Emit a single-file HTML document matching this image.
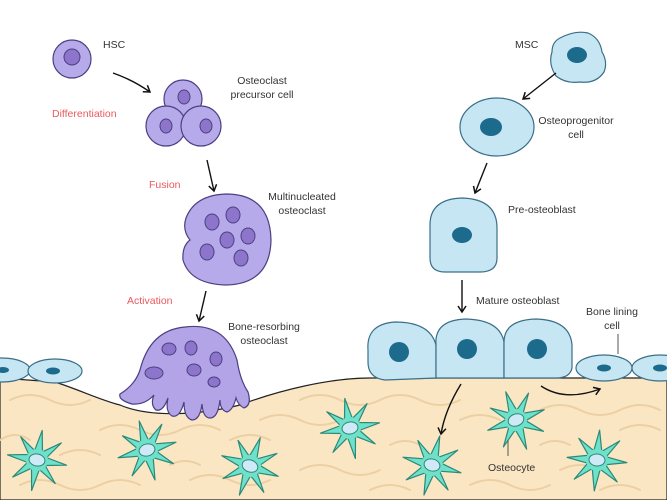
<!DOCTYPE html>
<html><head><meta charset="utf-8"><style>
html,body{margin:0;padding:0;background:#fff;}
svg{display:block;}
text{font-family:"Liberation Sans",sans-serif;font-size:10.5px;fill:#333;}
.r{fill:#e85a5e;}
</style></head><body>
<svg width="667" height="500" viewBox="0 0 667 500" xmlns="http://www.w3.org/2000/svg">
<defs>
<marker id="ah" markerWidth="10" markerHeight="10" refX="7" refY="5" orient="auto" markerUnits="userSpaceOnUse">
<path d="M1,1 L7,5 L1,9" fill="none" stroke="#111" stroke-width="1.5"/>
</marker>
<g id="oc">
<polygon points="30,0 9,4 22,20 4,9 0,31 -4,9 -21,21 -9,4 -30,0 -9,-4 -20,-20 -4,-9 0,-30 4,-9 21,-21 9,-4" fill="#6fe0c9" stroke="#2a8a78" stroke-width="1.2" stroke-linejoin="round"/>
<circle r="11" fill="#6fe0c9"/>
<ellipse cx="0" cy="0" rx="8" ry="6" fill="#cfe9f7" stroke="#2a8a78" stroke-width="1"/>
</g>
</defs>
<!-- bone -->
<path d="M0,378 L55,382 C80,390 100,400 120,405 C150,418 200,415 240,405 C280,390 330,378 370,378 L667,378 L667,500 L0,500 Z" fill="#fbe6c4" stroke="#222" stroke-width="1.2"/>
<g fill="none" stroke="#ecd0a3" stroke-width="2" stroke-linecap="round">
<path d="M10,400 q20,-10 40,0 t40,0"/><path d="M100,430 q20,-10 40,0 t40,0 t40,0"/>
<path d="M0,440 q15,-10 30,0"/><path d="M260,420 q20,-10 40,0 t40,0"/>
<path d="M380,400 q20,-10 40,0 t40,0"/><path d="M540,410 q20,-10 40,0 t40,0 t40,0"/>
<path d="M20,485 q20,-10 40,0 t40,0 t40,0"/><path d="M190,480 q20,-10 40,0 t40,0"/>
<path d="M300,470 q20,-10 40,0 t40,0"/><path d="M470,485 q20,-10 40,0 t40,0"/>
<path d="M600,490 q20,-10 40,0"/><path d="M390,445 q15,-8 30,0"/><path d="M540,445 q15,-8 30,0"/>
<path d="M230,440 q20,-10 40,0"/><path d="M620,430 q20,-10 40,0"/>
<path d="M300,400 q20,-10 40,0 t40,0"/><path d="M60,455 q20,-10 40,0"/><path d="M460,420 q20,-10 40,0"/>
<path d="M560,470 q20,-10 40,0"/><path d="M370,490 q20,-10 40,0"/><path d="M170,465 q15,-8 30,0"/>
</g>
<!-- osteocytes -->
<use href="#oc" transform="translate(37,460) rotate(10)"/>
<use href="#oc" transform="translate(147,450) rotate(-15)"/>
<use href="#oc" transform="translate(250,466) rotate(20)"/>
<use href="#oc" transform="translate(350,428) rotate(-10)"/>
<use href="#oc" transform="translate(432,465) rotate(15)"/>
<use href="#oc" transform="translate(516,420) rotate(-20)"/>
<use href="#oc" transform="translate(597,460) rotate(5)"/>
<line x1="508" y1="440" x2="508" y2="456" stroke="#555"/>
<text x="488" y="471">Osteocyte</text>
<!-- lining cells left -->
<ellipse cx="2" cy="370" rx="28" ry="12" fill="#c6e6f4" stroke="#3b6f88" stroke-width="1.2"/>
<ellipse cx="3" cy="370" rx="6" ry="3" fill="#1d6b8c"/>
<ellipse cx="55" cy="371" rx="27" ry="12" fill="#c6e6f4" stroke="#3b6f88" stroke-width="1.2"/>
<ellipse cx="53" cy="371" rx="7" ry="3.5" fill="#1d6b8c"/>
<!-- lining cells right -->
<ellipse cx="604" cy="368" rx="28" ry="13" fill="#c6e6f4" stroke="#3b6f88" stroke-width="1.2"/>
<ellipse cx="604" cy="368" rx="7" ry="3.5" fill="#1d6b8c"/>
<ellipse cx="660" cy="368" rx="28" ry="13" fill="#c6e6f4" stroke="#3b6f88" stroke-width="1.2"/>
<ellipse cx="660" cy="368" rx="7" ry="3.5" fill="#1d6b8c"/>
<line x1="618" y1="334" x2="618" y2="354" stroke="#555"/>
<text x="612" y="315" text-anchor="middle">Bone lining</text>
<text x="612" y="329" text-anchor="middle">cell</text>
<!-- mature osteoblasts -->
<g fill="#c6e6f4" stroke="#3b6f88" stroke-width="1.2">
<path d="M368,350 Q366,324 395,322 Q430,322 436,345 L436,378 L385,380 Q368,378 368,362 Z"/>
<path d="M436,345 Q434,320 466,319 Q500,320 504,342 L504,378 L436,378 Z"/>
<path d="M504,342 Q504,320 536,319 Q570,320 572,345 L572,368 Q570,378 556,378 L504,378 Z"/>
</g>
<circle cx="399" cy="352" r="10" fill="#1d6b8c"/>
<circle cx="467" cy="349" r="10" fill="#1d6b8c"/>
<circle cx="537" cy="349" r="10" fill="#1d6b8c"/>
<text x="476" y="304">Mature osteoblast</text>
<!-- curved arrows -->
<path d="M461,384 Q445,410 441,434" fill="none" stroke="#111" stroke-width="1.4" marker-end="url(#ah)"/>
<path d="M541,386 Q565,402 600,389" fill="none" stroke="#111" stroke-width="1.4" marker-end="url(#ah)"/>
<!-- pre-osteoblast -->
<path d="M430,225 Q430,199 462,198 Q497,199 497,228 L497,258 Q497,272 480,272 L445,272 Q430,272 430,258 Z" fill="#c6e6f4" stroke="#3b6f88" stroke-width="1.2"/>
<ellipse cx="462" cy="235" rx="10" ry="8" fill="#1d6b8c"/>
<text x="508" y="213">Pre-osteoblast</text>
<line x1="462" y1="280" x2="462" y2="312" stroke="#111" stroke-width="1.4" marker-end="url(#ah)"/>
<!-- osteoprogenitor -->
<ellipse cx="497" cy="127" rx="37" ry="29" fill="#c6e6f4" stroke="#3b6f88" stroke-width="1.2"/>
<ellipse cx="491" cy="127" rx="11" ry="9" fill="#1d6b8c"/>
<text x="576" y="124" text-anchor="middle">Osteoprogenitor</text>
<text x="576" y="138" text-anchor="middle">cell</text>
<line x1="487" y1="163" x2="475" y2="193" stroke="#111" stroke-width="1.4" marker-end="url(#ah)"/>
<!-- MSC -->
<path d="M560,38 Q575,30 588,33 Q600,38 602,52 Q608,62 604,72 Q596,84 580,82 Q566,84 556,76 Q548,64 552,52 Q552,42 560,38 Z" fill="#c6e6f4" stroke="#3b6f88" stroke-width="1.2"/>
<ellipse cx="577" cy="55" rx="10" ry="8" fill="#1d6b8c"/>
<text x="515" y="48">MSC</text>
<line x1="556" y1="73" x2="523" y2="99" stroke="#111" stroke-width="1.4" marker-end="url(#ah)"/>
<!-- HSC -->
<circle cx="72" cy="59" r="19" fill="#b7aaeb" stroke="#4b4080" stroke-width="1.2"/>
<circle cx="72" cy="57" r="8" fill="#8d75cc" stroke="#4b4080" stroke-width="1"/>
<text x="103" y="48">HSC</text>
<path d="M113,73 Q133,80 150,92" fill="none" stroke="#111" stroke-width="1.4" marker-end="url(#ah)"/>
<text class="r" x="52" y="117">Differentiation</text>
<!-- precursor -->
<g fill="#b7aaeb" stroke="#4b4080" stroke-width="1.2">
<circle cx="183" cy="99" r="19"/>
<circle cx="166" cy="126" r="20"/>
<circle cx="201" cy="126" r="20"/>
</g>
<g fill="#8d75cc" stroke="#4b4080" stroke-width="1">
<ellipse cx="184" cy="97" rx="6" ry="7"/><ellipse cx="166" cy="126" rx="6" ry="7"/><ellipse cx="206" cy="126" rx="6" ry="7"/>
</g>
<text x="262" y="84" text-anchor="middle">Osteoclast</text>
<text x="262" y="98" text-anchor="middle">precursor cell</text>
<line x1="207" y1="160" x2="214" y2="191" stroke="#111" stroke-width="1.4" marker-end="url(#ah)"/>
<text class="r" x="149" y="188">Fusion</text>
<!-- multinucleated -->
<path d="M226,194 Q270,194 271,240 Q270,284 226,285 Q190,284 183,260 Q182,246 190,240 Q182,230 186,218 Q195,195 226,194 Z" fill="#b7aaeb" stroke="#4b4080" stroke-width="1.2"/>
<g fill="#8d75cc" stroke="#4b4080" stroke-width="1">
<ellipse cx="212" cy="222" rx="7" ry="8"/><ellipse cx="233" cy="215" rx="7" ry="8"/>
<ellipse cx="227" cy="240" rx="7" ry="8"/><ellipse cx="248" cy="236" rx="7" ry="8"/>
<ellipse cx="207" cy="252" rx="7" ry="8"/><ellipse cx="241" cy="258" rx="7" ry="8"/>
</g>
<text x="302" y="200" text-anchor="middle">Multinucleated</text>
<text x="302" y="214" text-anchor="middle">osteoclast</text>
<text class="r" x="127" y="304">Activation</text>
<line x1="206" y1="291" x2="199" y2="321" stroke="#111" stroke-width="1.4" marker-end="url(#ah)"/>
<!-- bone-resorbing osteoclast -->
<path d="M185,327 Q225,322 237,360 Q240,380 248,392 Q252,405 244,408 Q238,405 236,398 Q233,410 227,412 Q220,410 220,400 Q218,418 210,418 Q203,418 202,404 Q200,420 192,420 Q184,418 184,402 Q180,418 172,416 Q165,412 168,398 Q163,412 156,410 Q150,405 154,395 Q145,405 132,404 Q118,400 120,394 Q135,385 140,370 Q150,330 185,327 Z" fill="#b3a4e8" stroke="#4b4080" stroke-width="1.2"/>
<g fill="#8d75cc" stroke="#4b4080" stroke-width="1">
<ellipse cx="169" cy="349" rx="7" ry="6"/><ellipse cx="191" cy="348" rx="6" ry="7"/>
<ellipse cx="216" cy="359" rx="6" ry="7"/><ellipse cx="194" cy="370" rx="7" ry="6"/>
<ellipse cx="154" cy="373" rx="9" ry="6"/><ellipse cx="214" cy="382" rx="6" ry="5"/>
</g>
<text x="264" y="330" text-anchor="middle">Bone-resorbing</text>
<text x="264" y="344" text-anchor="middle">osteoclast</text>
</svg>
</body></html>
